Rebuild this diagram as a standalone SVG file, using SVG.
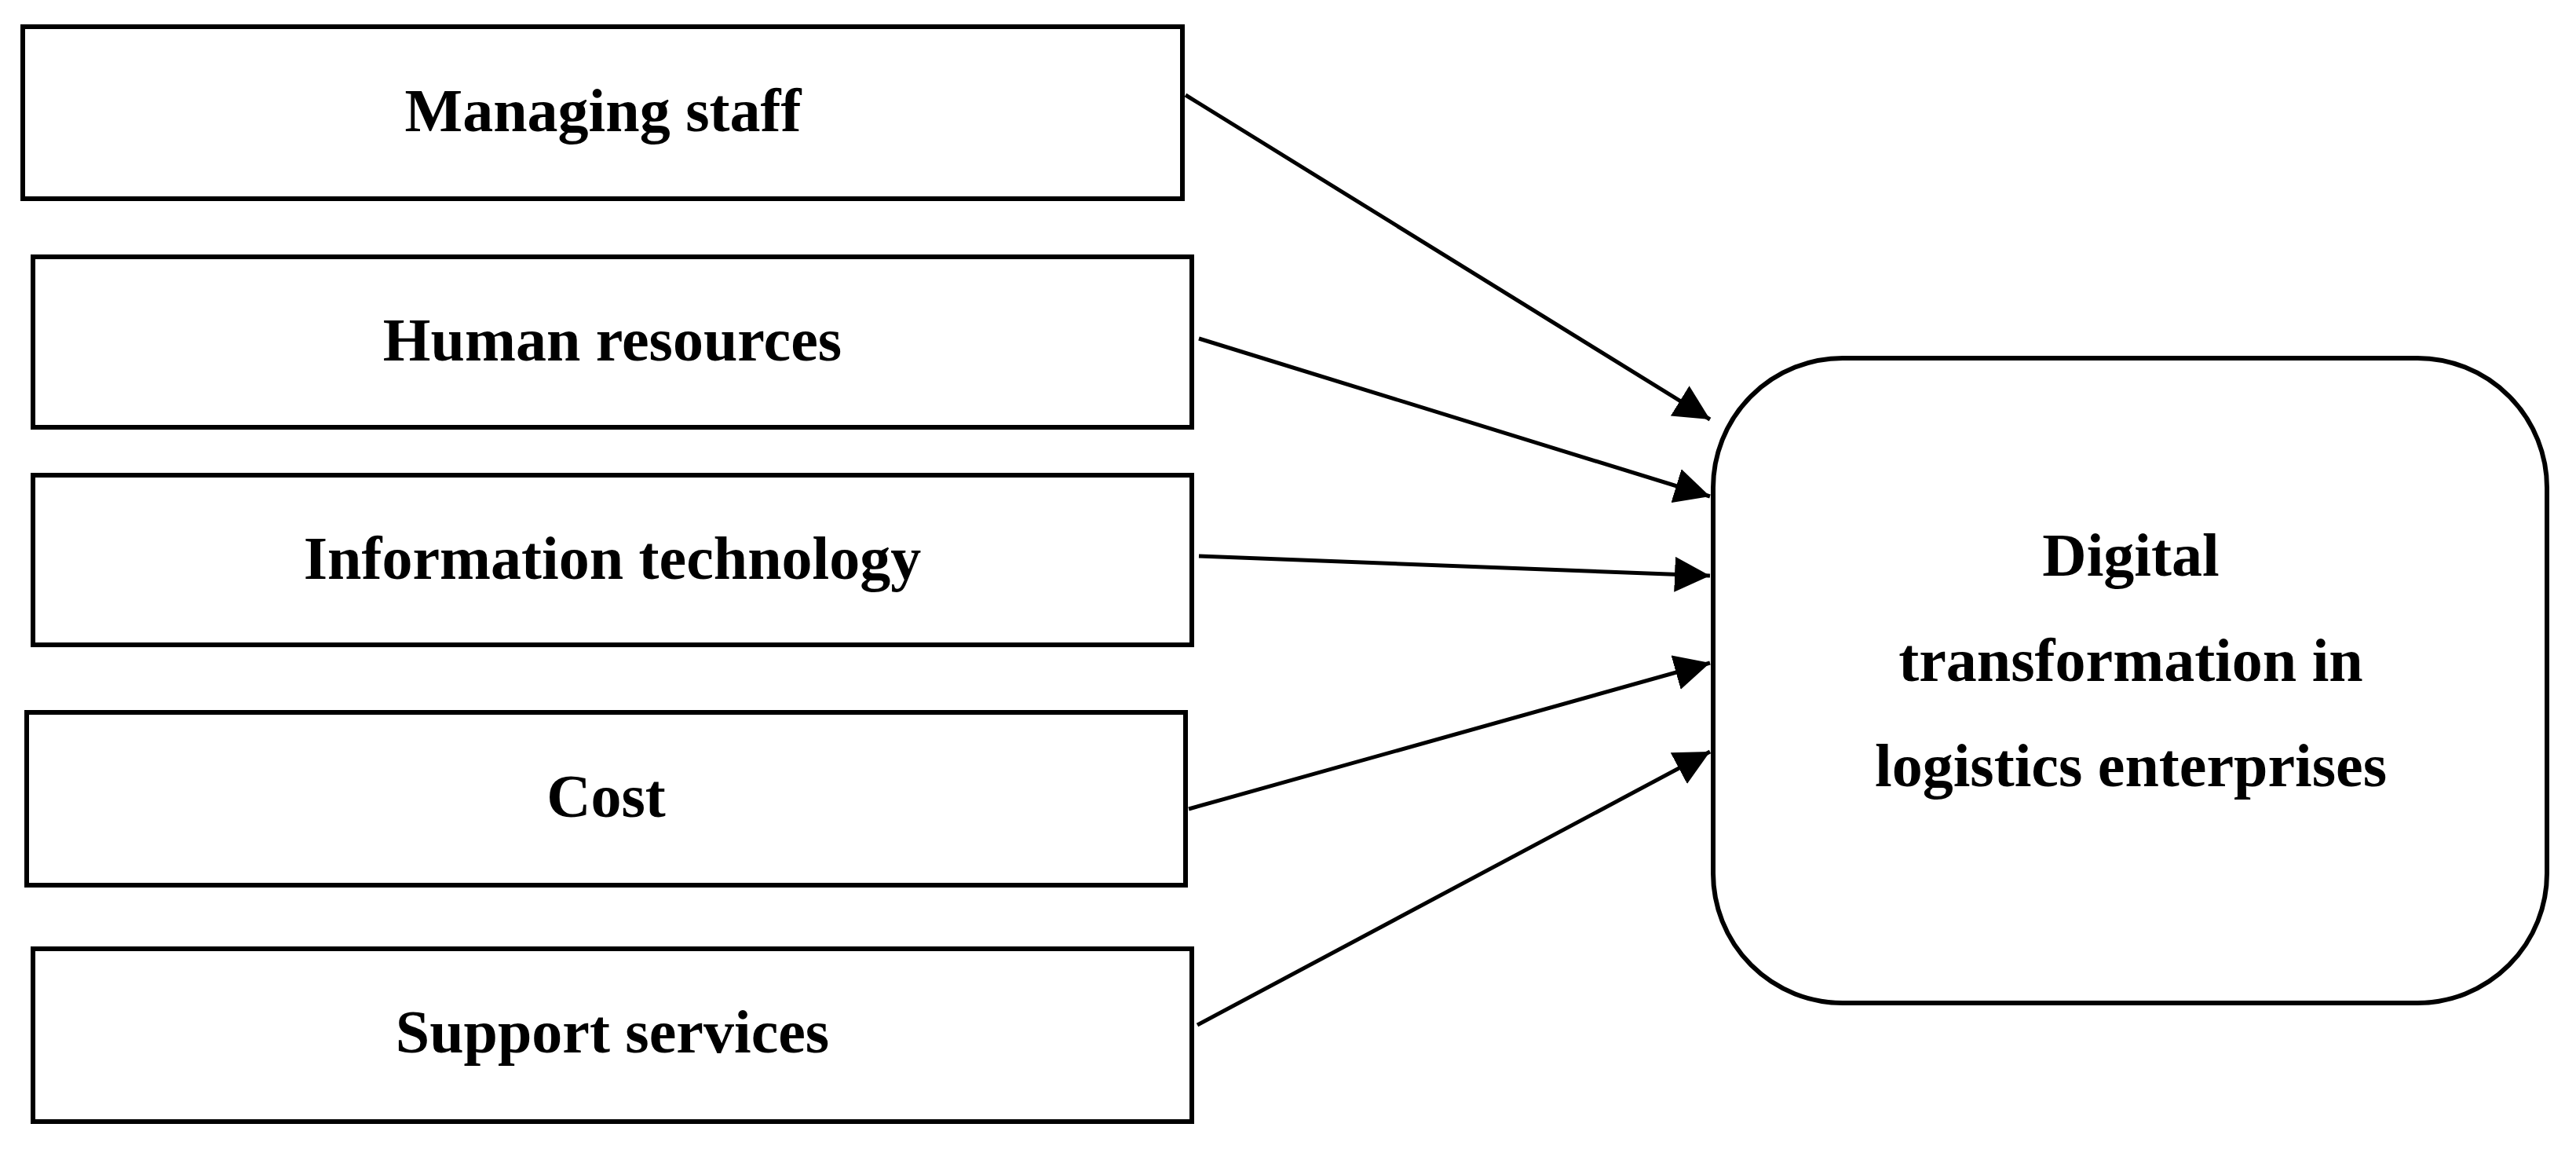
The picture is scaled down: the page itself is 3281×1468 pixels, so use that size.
<svg xmlns="http://www.w3.org/2000/svg" width="3281" height="1468" viewBox="0 0 3281 1468">
<defs>
<style>
.b{fill:#fff;stroke:#000;stroke-width:6}
.t{font-family:"Liberation Serif",serif;font-weight:bold;font-size:78px;text-anchor:middle;dominant-baseline:central;fill:#000}
.c{stroke:#000;stroke-width:5;fill:none;marker-end:url(#a)}
</style>
<marker id="a" viewBox="0 0 10 10" refX="10" refY="5" markerWidth="9" markerHeight="9" markerUnits="strokeWidth" orient="auto"><path d="M0,0L10,5L0,10z" fill="#000"/></marker>
</defs>
<rect width="3281" height="1468" fill="#fff"/>
<g id="n1"><rect class="b" x="29" y="34" width="1477" height="219"/><text class="t" x="768" y="140">Managing staff</text></g>
<g id="n2"><rect class="b" x="42" y="327" width="1476" height="217"/><text class="t" x="780" y="432">Human resources</text></g>
<g id="n3"><rect class="b" x="42" y="605" width="1476" height="216"/><text class="t" x="780" y="710">Information technology</text></g>
<g id="n4"><rect class="b" x="34" y="907" width="1476" height="220"/><text class="t" x="772" y="1013">Cost</text></g>
<g id="n5"><rect class="b" x="42" y="1208" width="1476" height="220"/><text class="t" x="780" y="1313">Support services</text></g>
<g id="n6"><rect class="b" x="2182" y="456" width="1062" height="821" rx="165"/><text class="t" x="2714" y="706">Digital</text><text class="t" x="2714" y="840">transformation in</text><text class="t" x="2714" y="974">logistics enterprises</text></g>
<g id="connectors">
<line class="c" x1="1510" y1="121" x2="2178" y2="534"/>
<line class="c" x1="1527" y1="431" x2="2178" y2="632"/>
<line class="c" x1="1527" y1="708" x2="2178" y2="733"/>
<line class="c" x1="1514" y1="1030" x2="2178" y2="844"/>
<line class="c" x1="1525" y1="1305" x2="2178" y2="957"/>
</g>
</svg>
